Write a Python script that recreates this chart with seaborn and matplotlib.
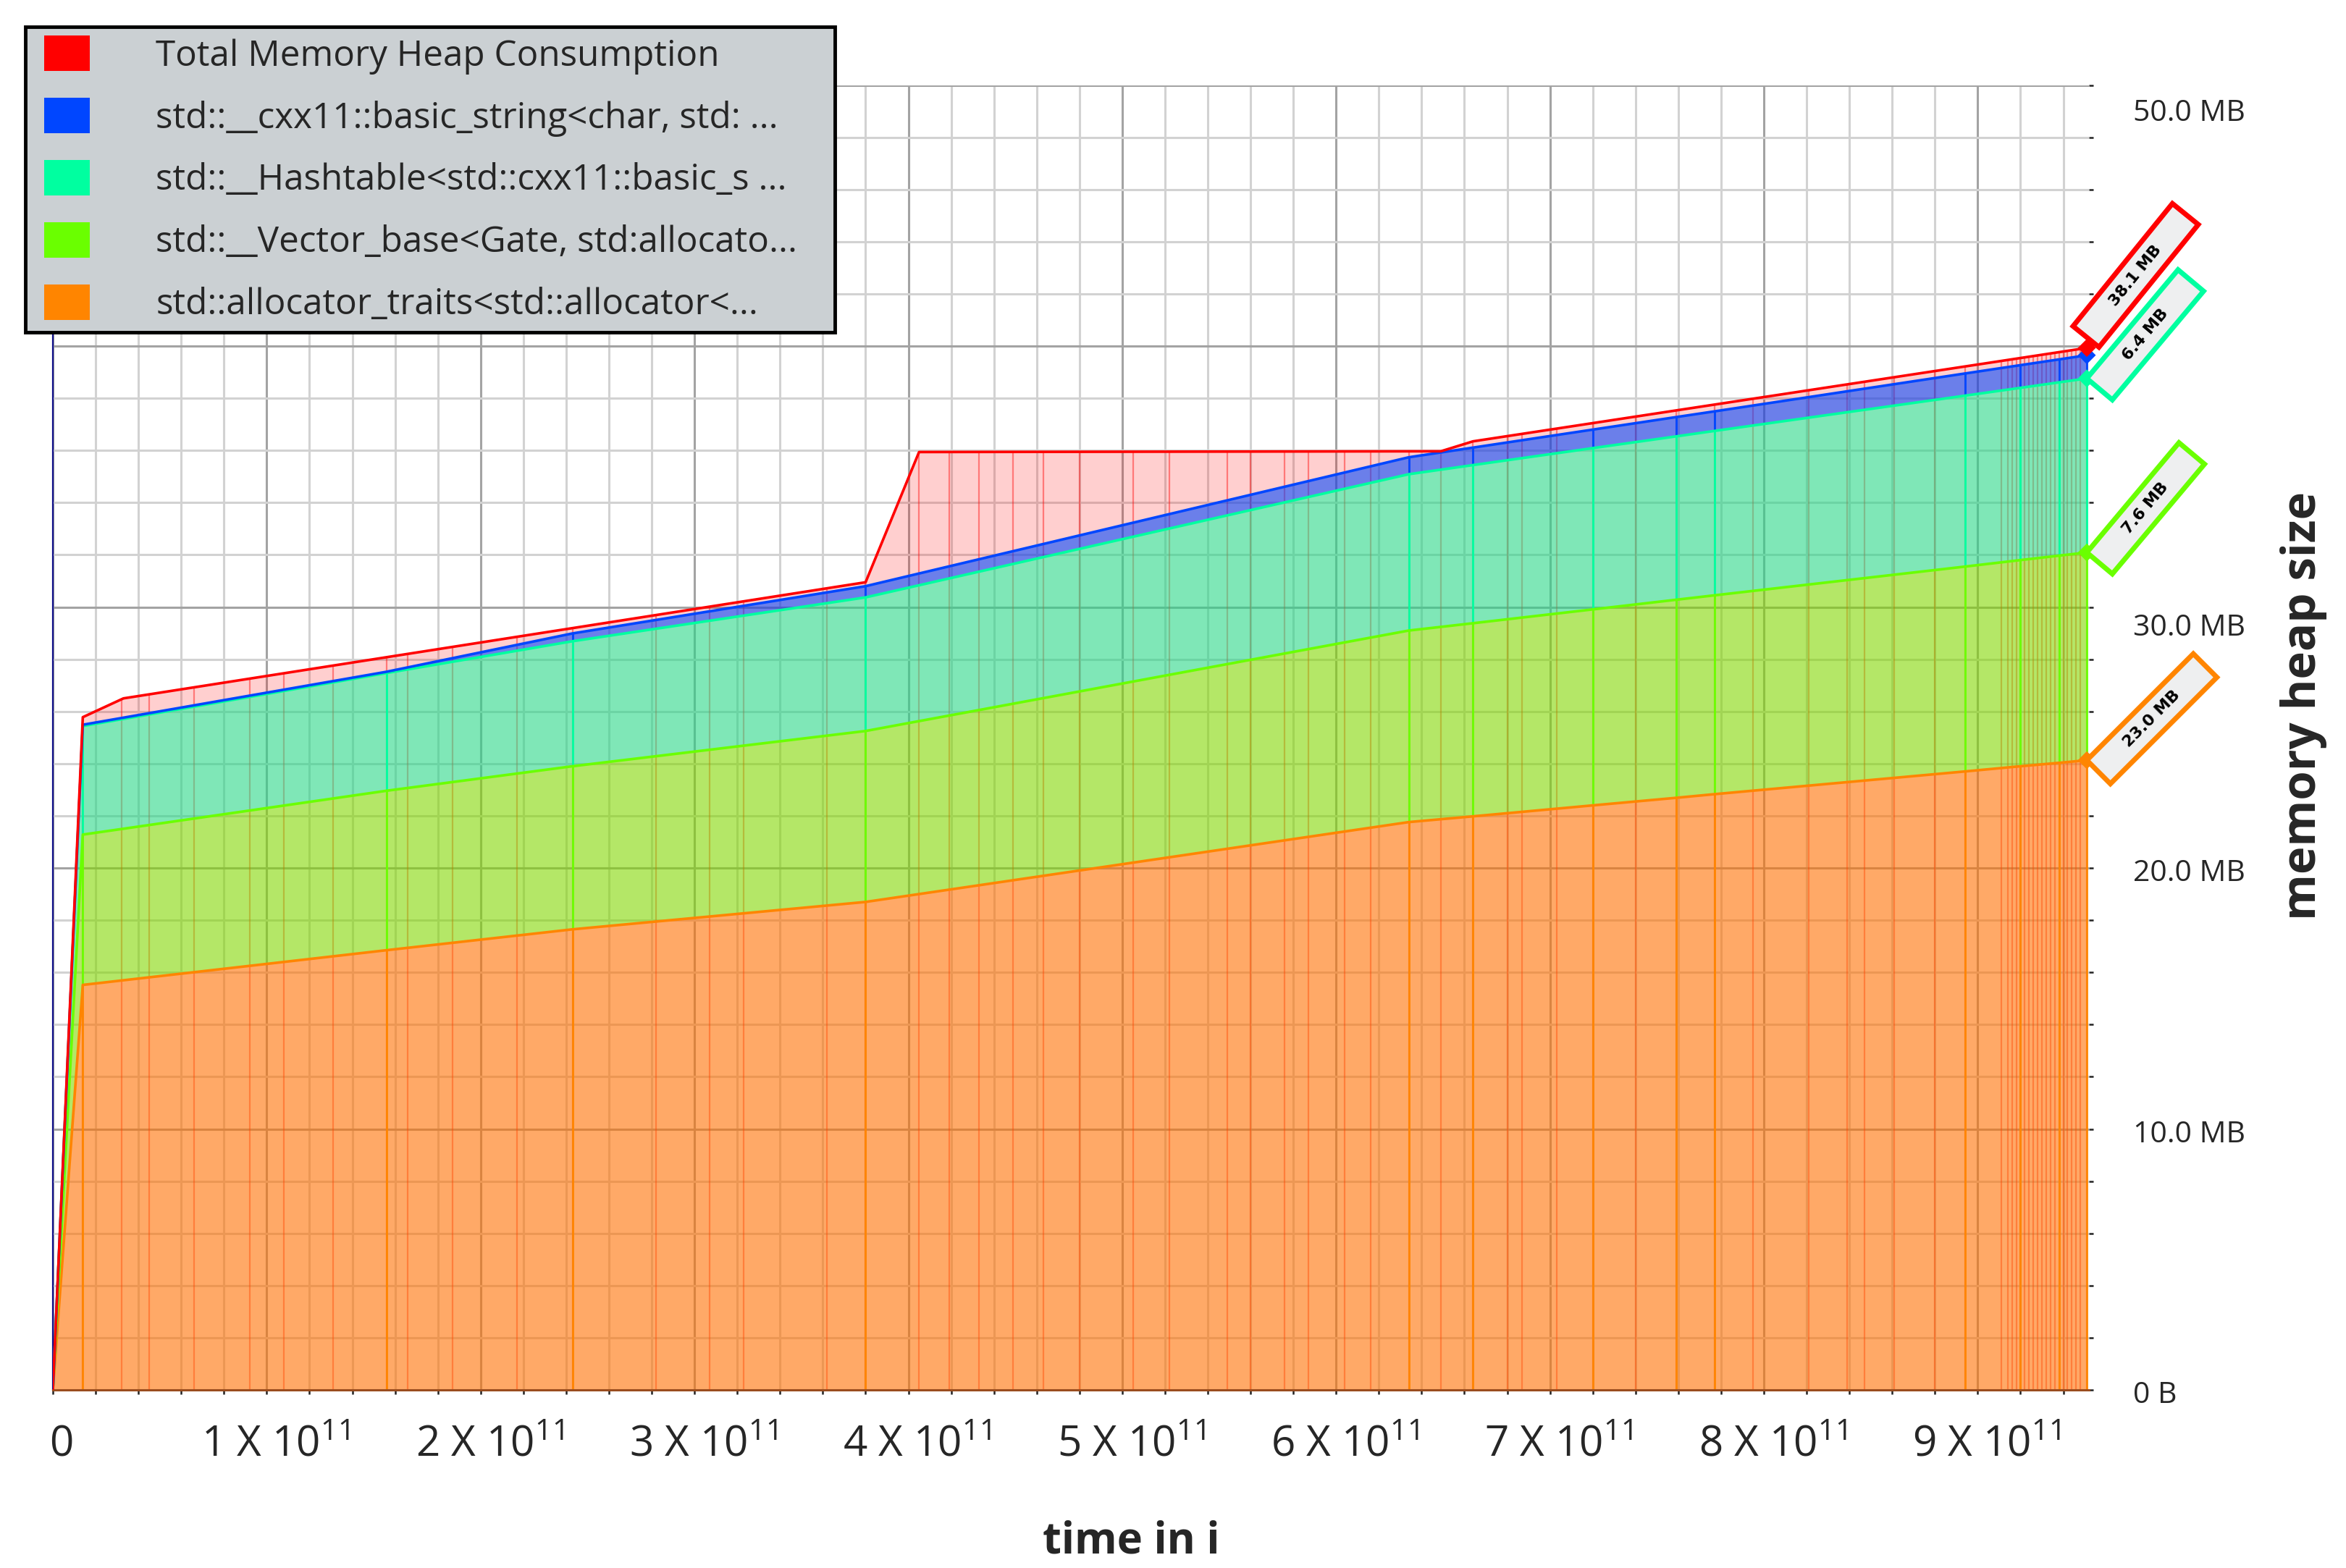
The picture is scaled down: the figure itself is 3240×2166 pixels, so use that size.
import numpy as np
import pandas as pd
import matplotlib
matplotlib.use("Agg")
import matplotlib.pyplot as plt
import seaborn as sns
from matplotlib.patches import Patch, Polygon, Rectangle
from matplotlib.legend_handler import HandlerPatch
from matplotlib.transforms import Affine2D, ScaledTranslation
from matplotlib.ticker import MultipleLocator, FixedLocator

# ---------------- data (time in units of 1e11 i, memory in axis MB) ----------------
detail_t = [0.0, 0.14, 1.56, 2.43, 3.80, 6.34, 6.64, 7.20, 7.59, 7.77, 8.94, 9.20, 9.38, 9.51]
alloc_traits = [0.0, 15.52, 16.85, 17.65, 18.70, 21.76, 21.98, 22.40, 22.69, 22.83, 23.70, 23.90, 24.03, 24.13]
vector_base = [0.0, 5.76, 6.11, 6.25, 6.55, 7.34, 7.40, 7.51, 7.59, 7.62, 7.85, 7.90, 7.94, 7.96]
hashtable = [0.0, 4.16, 4.51, 4.79, 5.12, 5.99, 6.06, 6.18, 6.26, 6.30, 6.55, 6.60, 6.64, 6.67]
basic_string = [0.0, 0.05, 0.05, 0.30, 0.43, 0.65, 0.67, 0.71, 0.74, 0.75, 0.85, 0.87, 0.88, 0.89]

total_t = [0.0, 0.14, 0.33, 3.80, 4.05, 6.49, 6.64, 9.51]
total_mb = [0.0, 25.78, 26.50, 30.95, 35.94, 35.97, 36.35, 39.93]

snapshot_t = [0.14, 0.32, 0.45, 0.66, 0.92, 1.08, 1.31, 1.56, 1.66, 1.87, 2.17, 2.43,
              2.82, 3.07, 3.23, 3.62, 3.80, 4.05, 4.19, 4.33, 4.49, 4.63, 4.80, 5.05,
              5.22, 5.49, 5.60, 5.76, 5.87, 6.04, 6.16, 6.34, 6.49, 6.64, 6.80, 6.87,
              7.03, 7.20, 7.40, 7.59, 7.77, 7.95, 8.21, 8.39, 8.47, 8.61, 8.80, 8.94,
              9.11, 9.14, 9.16, 9.18, 9.20, 9.22, 9.24, 9.26, 9.28, 9.30, 9.32, 9.34,
              9.36, 9.38, 9.40, 9.42, 9.44, 9.46, 9.48, 9.51]

legend_labels = ["Total Memory Heap Consumption",
                 "std::__cxx11::basic_string<char, std: ...",
                 "std::__Hashtable<std::cxx11::basic_s ...",
                 "std::__Vector_base<Gate, std:allocato...",
                 "std::allocator_traits<std::allocator<..."]
box_labels = ["38.1 MB", "6.4 MB", "7.6 MB", "23.0 MB"]
x_tick_values = [0, 1, 2, 3, 4, 5, 6, 7, 8, 9]
y_tick_values = [0, 10, 20, 30, 40, 50]
y_tick_labels = ["0 B", "10.0 MB", "20.0 MB", "30.0 MB", "", "50.0 MB"]

# ---------------- style ----------------
RED, BLUE, TEAL, GREEN, ORANGE = "#ff0000", "#0046ff", "#00ffa0", "#6aff00", "#ff8500"
W_PX, H_PX, DPI = 3241, 2166, 100

sns.set_theme(style="white")
plt.rcParams["font.family"] = ["Open Sans", "DejaVu Sans"]
plt.rcParams["mathtext.fontset"] = "custom"
plt.rcParams["mathtext.rm"] = "Open Sans"

fig = plt.figure(figsize=(W_PX / DPI, H_PX / DPI), dpi=DPI)
fig.patch.set_facecolor("white")
left, right = 73 / W_PX, 2885 / W_PX
bottom, top = 1 - 1920 / H_PX, 1 - 117.6 / H_PX
ax = fig.add_axes([left, bottom, right - left, top - bottom])
ax.set_facecolor("white")

# stacked tops
layers = [alloc_traits, vector_base, hashtable, basic_string]
layer_colors = [ORANGE, GREEN, TEAL, BLUE]
layer_alpha = [0.5, 0.5, 0.5, 0.58]
tops = np.cumsum(np.array(layers, dtype=float), axis=0)
bottoms = np.vstack([np.zeros(len(detail_t)), tops[:-1]])
t_arr = np.array(detail_t)

# total area (behind everything)
red_fill = ax.fill_between(total_t, 0, total_mb, color=RED, alpha=0.19, lw=0, zorder=1)
red_path = red_fill.get_paths()[0]
red_v = ax.vlines(snapshot_t, 0, 50, colors=RED, alpha=0.42, lw=1.6, zorder=1.2)
red_v.set_clip_path(red_path, ax.transData)

# bands
for lo, hi, c, a in zip(bottoms, tops, layer_colors, layer_alpha):
    ax.fill_between(t_arr, lo, hi, color=c, alpha=a, lw=0, zorder=2)
    ax.vlines(t_arr[1:], lo[1:], hi[1:], colors=c, lw=2.0, zorder=2.5)

# boundary lines via seaborn
names = ["alloc", "vector", "hash", "string"]
rows = []
for n, hi in zip(names, tops):
    for t, v in zip(detail_t, hi):
        rows.append((n, t, v))
for t, v in zip(total_t, total_mb):
    rows.append(("total", t, v))
df = pd.DataFrame(rows, columns=["series", "t", "mb"])
pal = {"alloc": ORANGE, "vector": GREEN, "hash": TEAL, "string": BLUE, "total": RED}
sns.lineplot(data=df, x="t", y="mb", hue="series", palette=pal, lw=2.6,
             legend=False, ax=ax, zorder=3, sort=False, estimator=None)

# end markers
ends = pd.DataFrame({"t": [detail_t[-1]] * 4 + [total_t[-1]],
                     "mb": list(tops[:, -1]) + [total_mb[-1]],
                     "series": names + ["total"]})
sns.scatterplot(data=ends, x="t", y="mb", hue="series", palette=pal, marker="D",
                s=160, edgecolor="none", legend=False, ax=ax, zorder=4, clip_on=False)

# axes limits & ticks
ax.set_xlim(0, 9.52)
ax.set_ylim(0, 50)
ax.xaxis.set_major_locator(FixedLocator(x_tick_values))
ax.xaxis.set_minor_locator(MultipleLocator(0.2))
ax.set_xticks(x_tick_values,
              ["0"] + [f"{k} X $\\mathregular{{10^{{11}}}}$" for k in x_tick_values[1:]])
ax.yaxis.tick_right()
ax.set_yticks(y_tick_values, y_tick_labels)
ax.yaxis.set_minor_locator(MultipleLocator(2))
ax.tick_params(axis="x", which="both", bottom=True, direction="out", length=4,
               width=1.8, color="#222222", pad=30, labelsize=42)
ax.tick_params(axis="y", which="both", right=True, left=False, direction="out",
               length=4, width=1.8, color="#222222", pad=40, labelsize=29.5)

# small label offsets as in the reference
for lab in ax.get_xticklabels():
    lab.set_transform(lab.get_transform() + ScaledTranslation(12 / DPI, 0, fig.dpi_scale_trans))
y_shift = {"50.0 MB": -34, "30.0 MB": -24}
for lab in ax.get_yticklabels():
    d = y_shift.get(lab.get_text(), -3)
    lab.set_transform(lab.get_transform() + ScaledTranslation(0, d / DPI, fig.dpi_scale_trans))

ax.set_axisbelow(True)
ax.grid(which="major", color="#a3a3a3", lw=2.2)
ax.grid(which="minor", color="#d2d2d2", lw=2.2)
for s in ("top", "right"):
    ax.spines[s].set_visible(False)
ax.spines["left"].set_color("#10108a")
ax.spines["left"].set_linewidth(1.6)
ax.spines["bottom"].set_color("#9a4d1f")
ax.spines["bottom"].set_linewidth(2.2)
ax.set_xlabel("")
ax.set_ylabel("")

# value tags at the end of the series
def tag(t, v, text, color, L, Wd, ang, off=(0.0, 0.0)):
    tr = Affine2D().rotate_deg(ang).translate(*off) + ScaledTranslation(t, v, ax.transData)
    poly = Polygon([(0, 0), (L, 0), (L, -Wd), (0, -Wd)], closed=True, transform=tr,
                   fc="#eeeff0", ec=color, lw=5, joinstyle="miter", zorder=6, clip_on=False)
    ax.add_artist(poly)
    a = np.deg2rad(ang)
    cx = L / 2 * np.cos(a) + Wd / 2 * np.sin(a) + off[0]
    cy = L / 2 * np.sin(a) - Wd / 2 * np.cos(a) + off[1]
    ax.annotate(text, xy=(t, v), xytext=(cx * 72 / DPI, cy * 72 / DPI),
                textcoords="offset points", rotation=ang, rotation_mode="anchor",
                ha="center", va="center", fontsize=16, fontweight="bold",
                family="DejaVu Sans", color="black", annotation_clip=False, zorder=7)

tend = detail_t[-1]
tag(total_t[-1], total_mb[-1], box_labels[0], RED, 218, 46, 51, off=(-19, 30))
tag(tend, tops[2, -1], box_labels[1], TEAL, 196, 46, 50)
tag(tend, tops[1, -1], box_labels[2], GREEN, 198, 46, 50)
tag(tend, tops[0, -1], box_labels[3], ORANGE, 208, 46, 45)

# legend (square handles inset a little from the frame, as in the reference)
SHIFT_PT = 10.0
def square_handle(legend, orig_handle, xdescent, ydescent, width, height, fontsize):
    return Rectangle((-xdescent + SHIFT_PT, -ydescent), width - SHIFT_PT, height)

handles = [Patch(fc=c, ec="none") for c in [RED, BLUE, TEAL, GREEN, ORANGE]]
leg = ax.legend(handles, legend_labels, loc="upper left", mode="expand",
                bbox_to_anchor=(35 / W_PX, 1 - 465 / H_PX, 1118 / W_PX, 428 / H_PX),
                bbox_transform=fig.transFigure,
                handler_map={Patch: HandlerPatch(patch_func=square_handle)},
                frameon=True, fancybox=False, facecolor="#cbd0d3", edgecolor="black",
                framealpha=1, fontsize=35.6, handlelength=1.55, handleheight=1.15,
                handletextpad=1.85, labelspacing=0.66, borderpad=0.25, borderaxespad=0)
leg.get_frame().set_linewidth(3.5)
leg.set_zorder(10)

# axis titles
fig.text(1562 / W_PX, 1 - 2130 / H_PX, "time in i", ha="center", va="center",
         fontsize=43, fontweight="bold")
fig.text(3182 / W_PX, 1 - 975 / H_PX, "memory heap size", ha="center", va="center",
         rotation=90, fontsize=47, fontweight="bold")

fig.savefig("out.png", dpi=DPI)
